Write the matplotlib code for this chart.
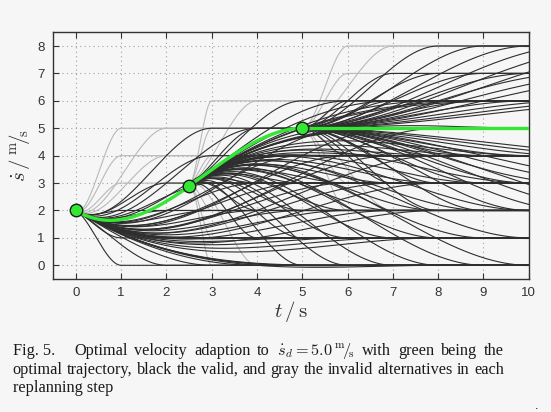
import numpy as np
import matplotlib
matplotlib.use('Agg')
import matplotlib.pyplot as plt

plt.rcParams['mathtext.fontset'] = 'cm'
plt.rcParams['font.family'] = ['Liberation Sans', 'DejaVu Sans']

# replanning points: time, velocity, acceleration
start_t = [0.0, 2.5, 5.0]
start_v = [2.0, 2.9, 5.0]
start_a = [-1.0, 1.15, 0.0]

# target velocities and end times of the alternatives in each step
targets = [[0, 1, 2, 3, 4, 5],
           [0, 1, 2, 3, 4, 5, 6],
           [2, 3, 4, 5, 6, 7, 8]]
end_times = [[1, 2, 3, 4, 5, 6, 7, 8],
             [3, 4, 5, 6, 7, 8, 9, 10],
             [6, 7, 8, 9, 10, 11, 12, 13]]

# (target, end time) of the invalid ones
invalid = [[(3, 1), (4, 1), (5, 1), (4, 2), (5, 2)],
           [(0, 3), (1, 3), (2, 3), (4, 3), (5, 3), (6, 3), (0, 4), (6, 4)],
           [(2, 6), (3, 6), (7, 6), (8, 6), (8, 7), (2, 7)]]

# chosen one per step
optimal = [(5, 5), (5, 5), (5, 6)]


def velocity(t, t0, v0, a0, v1, t1):
    # quartic in s -> cubic in v, end acceleration zero
    T = t1 - t0
    d = v1 - v0 - a0 * T
    c3 = -2 * (d + a0 * T / 2) / T**3
    c2 = (-a0 - 3 * c3 * T**2) / (2 * T)
    tau = np.clip(t - t0, 0, T)
    return v0 + a0 * tau + c2 * tau**2 + c3 * tau**3


fig = plt.figure(figsize=(5.51, 4.12), dpi=100, facecolor='#f6f6f6')
ax = fig.add_axes([0.0967, 0.3228, 0.8628, 0.5988])
ax.set_facecolor('#f6f6f6')

for k in range(3):
    t = np.linspace(start_t[k], 10, 500)
    for v1 in targets[k]:
        for t1 in end_times[k]:
            v = velocity(t, start_t[k], start_v[k], start_a[k], v1, t1)
            if (v1, t1) in invalid[k]:
                ax.plot(t, v, color='#b9b9b9', lw=0.8, zorder=2)
            else:
                ax.plot(t, v, color='#2e2e2e', lw=0.8, zorder=3)

# optimal trajectory, executed part of each step
for k in range(3):
    t_end = start_t[k + 1] if k < 2 else 10
    t = np.linspace(start_t[k], t_end, 200)
    v1, t1 = optimal[k]
    v = velocity(t, start_t[k], start_v[k], start_a[k], v1, t1)
    ax.plot(t, v, color='#33e833', lw=2.4, zorder=4, solid_capstyle='butt')
ax.plot(start_t, start_v, 'o', ms=9, mfc='#33e833', mec='#1a1a1a', mew=1.0, zorder=5)

ax.set_xlim(-0.5, 10)
ax.set_ylim(-0.5, 8.5)
ax.set_xticks(range(0, 11))
ax.set_yticks(range(0, 9))
ax.grid(True, linestyle=(0, (1, 3)), color='#a0a0a0', lw=0.8)
ax.set_axisbelow(True)
ax.tick_params(direction='in', top=True, right=True, length=4, width=0.8,
               colors='#333333', labelsize=9.5, pad=6)
for sp in ax.spines.values():
    sp.set_color('#333333')
    sp.set_linewidth(1.0)

ax.set_xlabel(r'$t\,/\,\mathrm{s}$', fontsize=15, color='#333333', labelpad=0)
ax.set_ylabel(r'$\dot{s}\,/\,{}^{\mathrm{m}}\!/\!{}_{\mathrm{s}}$', fontsize=15,
              color='#333333', labelpad=4)

# caption, justified like in the paper
serif = ['Liberation Serif', 'DejaVu Serif']
W, H = 551, 412
renderer = fig.canvas.get_renderer()


def put(x, y, s):
    return fig.text(x / W, 1 - y / H, s, fontsize=11.7, family=serif,
                    color='#1a1a1a', va='baseline', ha='left')


def justify(words, x0, x1, y):
    items = [put(x0, y, w) for w in words]
    widths = [it.get_window_extent(renderer).width for it in items]
    gap = (x1 - x0 - sum(widths)) / (len(words) - 1)
    x = x0
    for it, w in zip(items, widths):
        it.set_x(x / W)
        x += w + gap


put(12.7, 355, 'Fig. 5.')
justify(['Optimal', 'velocity', 'adaption', 'to',
         r'$\dot{s}_d = 5.0\,{}^{\mathrm{m}}\!/\!{}_{\mathrm{s}}$',
         'with', 'green', 'being', 'the'], 74, 504, 355)
justify(['optimal', 'trajectory,', 'black', 'the', 'valid,', 'and', 'gray', 'the',
         'invalid', 'alternatives', 'in', 'each'], 12.7, 504, 373.5)
put(12.7, 392, 'replanning step')
fig.text(537 / W, 1 - 409 / H, '.', fontsize=9, color='#000000', ha='center')

fig.savefig('out.png', dpi=100, facecolor=fig.get_facecolor())
